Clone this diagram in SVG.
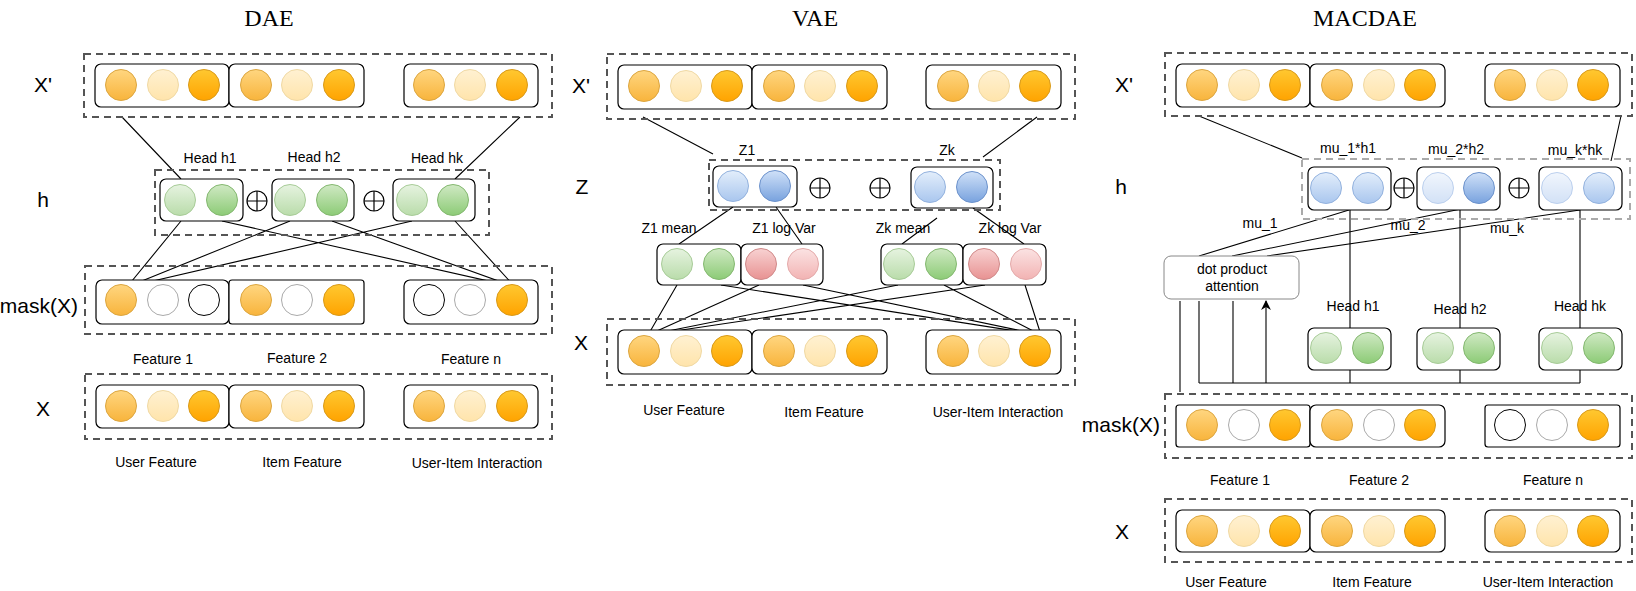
<svg xmlns="http://www.w3.org/2000/svg" width="1636" height="591" viewBox="0 0 1636 591">
<style>
text{font-family:"Liberation Sans",Arial,sans-serif;fill:#000}
.t{font-family:"Liberation Serif","Times New Roman",serif;font-size:24px;text-anchor:middle}
.L{font-size:21px;text-anchor:middle}
.Le{font-size:21px;text-anchor:end}
.s{font-size:14px;text-anchor:middle}
.dash{fill:none;stroke:#555;stroke-width:2;stroke-dasharray:7,5}
.dashg{fill:none;stroke:#aaa;stroke-width:2;stroke-dasharray:7,5}
.box{fill:#fff;stroke:#000;stroke-width:1.2}
.ln{stroke:#000;stroke-width:1.1;fill:none}
.o1{fill:url(#go1);stroke:#dca640}
.o2{fill:url(#go2);stroke:#f0d9a4}
.o3{fill:url(#go3);stroke:#d99a1a}
.w{fill:#fff;stroke:#aaa}
.wk{fill:#fff;stroke:#000}
.g1{fill:url(#gg1);stroke:#a8cc98}
.g2{fill:url(#gg2);stroke:#84b870}
.r1{fill:url(#gr1);stroke:#d08a8a}
.r2{fill:url(#gr2);stroke:#e4aaaa}
.b0{fill:url(#gb0);stroke:#bcd0ee}
.b1{fill:url(#gb1);stroke:#93b2de}
.b2{fill:url(#gb2);stroke:#6c92cc}
.op{fill:#fff;stroke:#000;stroke-width:1.2}
</style>
<defs>
<linearGradient id="go1" x1="0" y1="0" x2="0" y2="1"><stop offset="0" stop-color="#ffd680"/><stop offset="1" stop-color="#f8b43c"/></linearGradient>
<linearGradient id="go2" x1="0" y1="0" x2="0" y2="1"><stop offset="0" stop-color="#fff1d2"/><stop offset="1" stop-color="#ffe4ab"/></linearGradient>
<linearGradient id="go3" x1="0" y1="0" x2="0" y2="1"><stop offset="0" stop-color="#ffc830"/><stop offset="1" stop-color="#ffa300"/></linearGradient>
<linearGradient id="gg1" x1="0" y1="0" x2="0" y2="1"><stop offset="0" stop-color="#e6f3e0"/><stop offset="1" stop-color="#b9dcaa"/></linearGradient>
<linearGradient id="gg2" x1="0" y1="0" x2="0" y2="1"><stop offset="0" stop-color="#d0e9c4"/><stop offset="1" stop-color="#8ccb76"/></linearGradient>
<linearGradient id="gr1" x1="0" y1="0" x2="0" y2="1"><stop offset="0" stop-color="#f8d2d2"/><stop offset="1" stop-color="#e89292"/></linearGradient>
<linearGradient id="gr2" x1="0" y1="0" x2="0" y2="1"><stop offset="0" stop-color="#fbe3e3"/><stop offset="1" stop-color="#f2b3b3"/></linearGradient>
<linearGradient id="gb0" x1="0" y1="0" x2="0" y2="1"><stop offset="0" stop-color="#f1f6fd"/><stop offset="1" stop-color="#d2e1f6"/></linearGradient>
<linearGradient id="gb1" x1="0" y1="0" x2="0" y2="1"><stop offset="0" stop-color="#e3eefb"/><stop offset="1" stop-color="#a9c6ee"/></linearGradient>
<linearGradient id="gb2" x1="0" y1="0" x2="0" y2="1"><stop offset="0" stop-color="#d0e1f8"/><stop offset="1" stop-color="#78a2de"/></linearGradient>
<g id="plus"><circle r="10" class="op"/><path d="M-10 0H10M0 -10V10" stroke="#000" stroke-width="1.2"/></g>
<marker id="ar" viewBox="0 0 10 10" refX="9" refY="5" markerWidth="9" markerHeight="9" orient="auto"><path d="M0 0L10 5L0 10L3 5z" fill="#000"/></marker>
</defs>
<rect width="1636" height="591" fill="#fff"/>

<text class="t" x="269" y="26">DAE</text>
<text class="t" x="815" y="26">VAE</text>
<text class="t" x="1365" y="26">MACDAE</text>

<!-- connectors -->
<g id="connectors">
<!-- DAE -->
<path class="ln" d="M122 117L181 179M520 117L455 179"/>
<path class="ln" d="M181 221L127 287M290 221L127 287M412 221L127 287M222 221L515 287M332 221L515 287M455 221L515 287"/>
<!-- VAE -->
<path class="ln" d="M643 117L713 154M1037 117L983 157"/>
<path class="ln" d="M733 207L679 244M776 207L802 244M937 218L902 244M973 208L1024 244"/>
<path class="ln" d="M677 285L648 335M759 285L648 335M898 285L648 335M985 285L648 335M721 285L1041 335M803 285L1041 335M944 285L1041 335M1025 285L1041 335"/>
<!-- MACDAE -->
<path class="ln" d="M1199 116L1302 158M1621 116L1611 161"/>
<path class="ln" d="M1199 256L1349 210M1232 256L1461 209M1267 256L1580 210"/>
<path class="ln" d="M1350 210V328M1460 210V328M1580 210V328"/>
<path class="ln" d="M1350 370V383M1460 370V383M1580 370V383M1199 383H1580"/>
<path class="ln" d="M1180 392V301M1199 383V301M1233 383V301M1266 383V301" marker-end="url(#ar)"/>
<text class="s" x="1260" y="228">mu_1</text>
<text class="s" x="1408" y="230">mu_2</text>
<text class="s" x="1507" y="233">mu_k</text>
</g>

<!-- ===== DAE ===== -->
<g id="dae-xprime">
<text class="L" x="43" y="92">X'</text>
<rect class="dash" x="84" y="54" width="468" height="63"/>
<rect class="box" x="95" y="64" width="134" height="43" rx="6"/>
<rect class="box" x="229" y="64" width="135" height="43" rx="6"/>
<rect class="box" x="404" y="64" width="134" height="43" rx="6"/>
<circle class="o1" cx="121" cy="85" r="15.5"/><circle class="o2" cx="163" cy="85" r="15.5"/><circle class="o3" cx="204" cy="85" r="15.5"/>
<circle class="o1" cx="256" cy="85" r="15.5"/><circle class="o2" cx="297" cy="85" r="15.5"/><circle class="o3" cx="339" cy="85" r="15.5"/>
<circle class="o1" cx="429" cy="85" r="15.5"/><circle class="o2" cx="470" cy="85" r="15.5"/><circle class="o3" cx="512" cy="85" r="15.5"/>
</g>
<g id="dae-h">
<text class="L" x="43" y="207">h</text>
<rect class="dash" x="155" y="170" width="334" height="65"/>
<text class="s" x="210" y="163">Head h1</text><text class="s" x="314" y="162">Head h2</text><text class="s" x="437" y="163">Head hk</text>
<rect class="box" x="160" y="179" width="83" height="42" rx="6"/>
<rect class="box" x="272" y="179" width="82" height="42" rx="6"/>
<rect class="box" x="393" y="179" width="82" height="42" rx="6"/>
<circle class="g1" cx="180" cy="200" r="15.5"/><circle class="g2" cx="222" cy="200" r="15.5"/>
<circle class="g1" cx="290" cy="200" r="15.5"/><circle class="g2" cx="332" cy="200" r="15.5"/>
<circle class="g1" cx="412" cy="200" r="15.5"/><circle class="g2" cx="453" cy="200" r="15.5"/>
<use href="#plus" x="257" y="201"/><use href="#plus" x="374" y="201"/>
</g>
<g id="dae-mask">
<text class="Le" x="78" y="313">mask(X)</text>
<rect class="dash" x="85" y="266" width="467" height="68"/>
<rect class="box" x="96" y="280" width="133" height="44" rx="6"/>
<rect class="box" x="229" y="280" width="135" height="44" rx="3"/>
<rect class="box" x="404" y="280" width="134" height="44" rx="6"/>
<circle class="o1" cx="121" cy="300" r="15.5"/><circle class="w" cx="163" cy="300" r="15.5"/><circle class="wk" cx="204" cy="300" r="15.5"/>
<circle class="o1" cx="256" cy="300" r="15.5"/><circle class="w" cx="297" cy="300" r="15.5"/><circle class="o3" cx="339" cy="300" r="15.5"/>
<circle class="wk" cx="429" cy="300" r="15.5"/><circle class="w" cx="470" cy="300" r="15.5"/><circle class="o3" cx="512" cy="300" r="15.5"/>
<text class="s" x="163" y="364">Feature 1</text><text class="s" x="297" y="363">Feature 2</text><text class="s" x="471" y="364">Feature n</text>
</g>
<g id="dae-x">
<text class="L" x="43" y="416">X</text>
<rect class="dash" x="85" y="374" width="467" height="65"/>
<rect class="box" x="96" y="385" width="133" height="43" rx="6"/>
<rect class="box" x="229" y="385" width="135" height="43" rx="6"/>
<rect class="box" x="404" y="385" width="134" height="43" rx="6"/>
<circle class="o1" cx="121" cy="406" r="15.5"/><circle class="o2" cx="163" cy="406" r="15.5"/><circle class="o3" cx="204" cy="406" r="15.5"/>
<circle class="o1" cx="256" cy="406" r="15.5"/><circle class="o2" cx="297" cy="406" r="15.5"/><circle class="o3" cx="339" cy="406" r="15.5"/>
<circle class="o1" cx="429" cy="406" r="15.5"/><circle class="o2" cx="470" cy="406" r="15.5"/><circle class="o3" cx="512" cy="406" r="15.5"/>
<text class="s" x="156" y="467">User Feature</text><text class="s" x="302" y="467">Item Feature</text><text class="s" x="477" y="468">User-Item Interaction</text>
</g>

<!-- ===== VAE ===== -->
<g id="vae-xprime">
<text class="L" x="581" y="93">X'</text>
<rect class="dash" x="607" y="54" width="468" height="65"/>
<rect class="box" x="618" y="65" width="134" height="44" rx="6"/>
<rect class="box" x="752" y="65" width="135" height="44" rx="6"/>
<rect class="box" x="926" y="65" width="135" height="44" rx="6"/>
<circle class="o1" cx="644" cy="86" r="15.5"/><circle class="o2" cx="686" cy="86" r="15.5"/><circle class="o3" cx="727" cy="86" r="15.5"/>
<circle class="o1" cx="779" cy="86" r="15.5"/><circle class="o2" cx="820" cy="86" r="15.5"/><circle class="o3" cx="862" cy="86" r="15.5"/>
<circle class="o1" cx="953" cy="86" r="15.5"/><circle class="o2" cx="994" cy="86" r="15.5"/><circle class="o3" cx="1035" cy="86" r="15.5"/>
</g>
<g id="vae-z">
<text class="L" x="582" y="194">Z</text>
<rect class="dash" x="709" y="160" width="291" height="50"/>
<text class="s" x="747" y="155">Z1</text><text class="s" x="947" y="155">Zk</text>
<rect class="box" x="713" y="166" width="84" height="41" rx="6"/>
<rect class="box" x="911" y="167" width="82" height="41" rx="6"/>
<circle class="b1" cx="733" cy="186" r="15.5"/><circle class="b2" cx="775" cy="186" r="15.5"/>
<circle class="b1" cx="930" cy="187" r="15.5"/><circle class="b2" cx="972" cy="187" r="15.5"/>
<use href="#plus" x="820" y="188"/><use href="#plus" x="880" y="188"/>
</g>
<g id="vae-params">
<text class="s" x="669" y="233">Z1 mean</text><text class="s" x="784" y="233">Z1 log Var</text>
<text class="s" x="903" y="233">Zk mean</text><text class="s" x="1010" y="233">Zk log Var</text>
<rect class="box" x="657" y="244" width="84" height="41" rx="6"/>
<rect class="box" x="741" y="244" width="82" height="41" rx="6"/>
<rect class="box" x="881" y="244" width="82" height="41" rx="6"/>
<rect class="box" x="963" y="244" width="83" height="41" rx="6"/>
<circle class="g1" cx="677" cy="264" r="15.5"/><circle class="g2" cx="719" cy="264" r="15.5"/>
<circle class="r1" cx="761" cy="264" r="15.5"/><circle class="r2" cx="803" cy="264" r="15.5"/>
<circle class="g1" cx="899" cy="264" r="15.5"/><circle class="g2" cx="941" cy="264" r="15.5"/>
<circle class="r1" cx="984" cy="264" r="15.5"/><circle class="r2" cx="1026" cy="264" r="15.5"/>
</g>
<g id="vae-x">
<text class="L" x="581" y="350">X</text>
<rect class="dash" x="607" y="319" width="468" height="66"/>
<rect class="box" x="618" y="330" width="134" height="44" rx="6"/>
<rect class="box" x="752" y="330" width="135" height="44" rx="6"/>
<rect class="box" x="926" y="330" width="135" height="44" rx="6"/>
<circle class="o1" cx="644" cy="351" r="15.5"/><circle class="o2" cx="686" cy="351" r="15.5"/><circle class="o3" cx="727" cy="351" r="15.5"/>
<circle class="o1" cx="779" cy="351" r="15.5"/><circle class="o2" cx="820" cy="351" r="15.5"/><circle class="o3" cx="862" cy="351" r="15.5"/>
<circle class="o1" cx="953" cy="351" r="15.5"/><circle class="o2" cx="994" cy="351" r="15.5"/><circle class="o3" cx="1035" cy="351" r="15.5"/>
<text class="s" x="684" y="415">User Feature</text><text class="s" x="824" y="417">Item Feature</text><text class="s" x="998" y="417">User-Item Interaction</text>
</g>

<!-- ===== MACDAE ===== -->
<g id="mac-xprime">
<text class="L" x="1124" y="92">X'</text>
<rect class="dash" x="1165" y="53" width="467" height="63"/>
<rect class="box" x="1176" y="64" width="134" height="43" rx="6"/>
<rect class="box" x="1310" y="64" width="135" height="43" rx="6"/>
<rect class="box" x="1485" y="64" width="135" height="43" rx="6"/>
<circle class="o1" cx="1202" cy="85" r="15.5"/><circle class="o2" cx="1244" cy="85" r="15.5"/><circle class="o3" cx="1285" cy="85" r="15.5"/>
<circle class="o1" cx="1337" cy="85" r="15.5"/><circle class="o2" cx="1379" cy="85" r="15.5"/><circle class="o3" cx="1420" cy="85" r="15.5"/>
<circle class="o1" cx="1510" cy="85" r="15.5"/><circle class="o2" cx="1552" cy="85" r="15.5"/><circle class="o3" cx="1593" cy="85" r="15.5"/>
</g>
<g id="mac-h">
<text class="L" x="1121" y="194">h</text>
<rect class="dashg" x="1302" y="159" width="328" height="60"/>
<text class="s" x="1348" y="153">mu_1*h1</text><text class="s" x="1456" y="154">mu_2*h2</text><text class="s" x="1575" y="155">mu_k*hk</text>
<rect class="box" x="1308" y="167" width="83" height="43" rx="6"/>
<rect class="box" x="1417" y="167" width="83" height="43" rx="6"/>
<rect class="box" x="1539" y="167" width="83" height="43" rx="6"/>
<circle class="b1" cx="1326" cy="188" r="15.5"/><circle class="b1" cx="1368" cy="188" r="15.5"/>
<circle class="b0" cx="1438" cy="188" r="15.5"/><circle class="b2" cx="1479" cy="188" r="15.5"/>
<circle class="b0" cx="1557" cy="188" r="15.5"/><circle class="b1" cx="1599" cy="188" r="15.5"/>
<use href="#plus" x="1404" y="188"/><use href="#plus" x="1519" y="188"/>
</g>
<g id="mac-attention">
<rect x="1164" y="256" width="135" height="43" rx="7" fill="#fff" stroke="#888" stroke-width="1"/>
<text class="s" x="1232" y="274">dot product</text><text class="s" x="1232" y="291">attention</text>
</g>
<g id="mac-heads">
<text class="s" x="1353" y="311">Head h1</text><text class="s" x="1460" y="314">Head h2</text><text class="s" x="1580" y="311">Head hk</text>
<rect class="box" x="1308" y="328" width="83" height="42" rx="6"/>
<rect class="box" x="1417" y="328" width="83" height="42" rx="6"/>
<rect class="box" x="1539" y="328" width="83" height="42" rx="6"/>
<circle class="g1" cx="1326" cy="348" r="15.5"/><circle class="g2" cx="1368" cy="348" r="15.5"/>
<circle class="g1" cx="1438" cy="348" r="15.5"/><circle class="g2" cx="1479" cy="348" r="15.5"/>
<circle class="g1" cx="1557" cy="348" r="15.5"/><circle class="g2" cx="1599" cy="348" r="15.5"/>
</g>
<g id="mac-mask">
<text class="Le" x="1160" y="432">mask(X)</text>
<rect class="dash" x="1165" y="394" width="467" height="64"/>
<rect class="box" x="1176" y="405" width="134" height="42" rx="3"/>
<rect class="box" x="1310" y="405" width="135" height="42" rx="6"/>
<rect class="box" x="1485" y="405" width="135" height="42" rx="3"/>
<circle class="o1" cx="1202" cy="425" r="15.5"/><circle class="w" cx="1244" cy="425" r="15.5"/><circle class="o3" cx="1285" cy="425" r="15.5"/>
<circle class="o1" cx="1337" cy="425" r="15.5"/><circle class="w" cx="1379" cy="425" r="15.5"/><circle class="o3" cx="1420" cy="425" r="15.5"/>
<circle class="wk" cx="1510" cy="425" r="15.5"/><circle class="w" cx="1552" cy="425" r="15.5"/><circle class="o3" cx="1593" cy="425" r="15.5"/>
<text class="s" x="1240" y="485">Feature 1</text><text class="s" x="1379" y="485">Feature 2</text><text class="s" x="1553" y="485">Feature n</text>
</g>
<g id="mac-x">
<text class="L" x="1122" y="539">X</text>
<rect class="dash" x="1165" y="499" width="467" height="63"/>
<rect class="box" x="1176" y="510" width="134" height="42" rx="6"/>
<rect class="box" x="1310" y="510" width="135" height="42" rx="6"/>
<rect class="box" x="1485" y="510" width="135" height="42" rx="6"/>
<circle class="o1" cx="1202" cy="531" r="15.5"/><circle class="o2" cx="1244" cy="531" r="15.5"/><circle class="o3" cx="1285" cy="531" r="15.5"/>
<circle class="o1" cx="1337" cy="531" r="15.5"/><circle class="o2" cx="1379" cy="531" r="15.5"/><circle class="o3" cx="1420" cy="531" r="15.5"/>
<circle class="o1" cx="1510" cy="531" r="15.5"/><circle class="o2" cx="1552" cy="531" r="15.5"/><circle class="o3" cx="1593" cy="531" r="15.5"/>
<text class="s" x="1226" y="587">User Feature</text><text class="s" x="1372" y="587">Item Feature</text><text class="s" x="1548" y="587">User-Item Interaction</text>
</g>
</svg>
